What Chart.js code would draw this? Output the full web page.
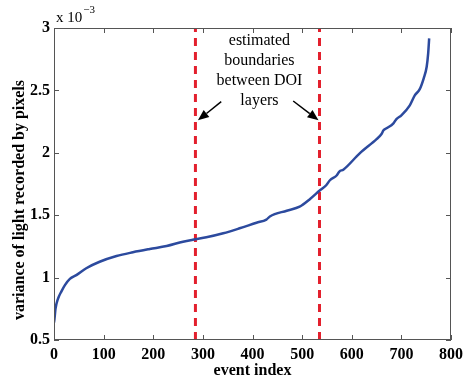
<!DOCTYPE html>
<html>
<head>
<meta charset="utf-8">
<script src="https://cdn.jsdelivr.net/npm/chart.js@4/dist/chart.umd.min.js"></script>
<style>
  html, body { margin: 0; padding: 0; background: #fff; }
  canvas { display: block; }
</style>
</head>
<body>
<canvas id="chart" width="474" height="389"></canvas>
<script>
// datos
const eventIndex = [0, 1, 3, 8, 15, 22, 32, 45, 65, 92, 126, 159, 193, 227, 260, 285, 307, 341, 374, 408, 428, 435, 469, 495, 516, 536, 549, 556, 570, 575, 583, 616, 650, 660, 664, 670, 684, 690, 700, 717, 727, 737, 745, 751, 754, 756];
const variance = [0.64, 0.67, 0.75, 0.83, 0.89, 0.94, 0.99, 1.02, 1.075, 1.127, 1.173, 1.203, 1.229, 1.253, 1.288, 1.307, 1.323, 1.355, 1.395, 1.44, 1.465, 1.49, 1.536, 1.568, 1.63, 1.70, 1.742, 1.78, 1.82, 1.85, 1.865, 1.996, 2.11, 2.15, 2.18, 2.196, 2.236, 2.27, 2.30, 2.38, 2.46, 2.51, 2.597, 2.69, 2.797, 2.917];

const boundaries = [285, 535];

const xTicks = [0, 100, 200, 300, 400, 500, 600, 700, 800];
const yTicks = [0.5, 1, 1.5, 2, 2.5, 3];

const noteLines = ['estimated', 'boundaries', 'between DOI', 'layers'];
const noteX = 414;
const noteY = [2.898, 2.735, 2.575, 2.42];
// flechas: [desde x, desde y, hasta x, hasta y]
const arrows = [
    [337, 2.41, 290, 2.26],
    [482, 2.415, 533, 2.26]
];

const serif = "'Liberation Serif', 'DejaVu Serif', serif";

const curve = eventIndex.map((x, i) => ({ x: x, y: variance[i] }));

const boundarySets = boundaries.map(b => ({
    data: [{ x: b, y: yTicks[0] }, { x: b, y: yTicks[yTicks.length - 1] }],
    borderColor: '#e3202d',
    borderWidth: 3,
    borderDash: [8, 6],
    pointRadius: 0,
    fill: false
}));

// marco, ticks hacia dentro, titulos y anotaciones
const matlabStyle = {
    id: 'matlabStyle',
    afterDraw(chart) {
        const ctx = chart.ctx;
        const a = chart.chartArea;
        const xs = chart.scales.x;
        const ys = chart.scales.y;
        const len = 5;

        ctx.save();
        ctx.strokeStyle = '#555';
        ctx.lineWidth = 1;
        ctx.strokeRect(a.left + 0.5, a.top + 0.5, a.right - a.left - 1, a.bottom - a.top - 1);

        ctx.beginPath();
        xTicks.forEach(t => {
            const px = Math.round(xs.getPixelForValue(t)) + 0.5;
            ctx.moveTo(px, a.bottom); ctx.lineTo(px, a.bottom - len);
            ctx.moveTo(px, a.top); ctx.lineTo(px, a.top + len);
        });
        yTicks.forEach(t => {
            const py = Math.round(ys.getPixelForValue(t)) + 0.5;
            ctx.moveTo(a.left, py); ctx.lineTo(a.left + len, py);
            ctx.moveTo(a.right, py); ctx.lineTo(a.right - len, py);
        });
        ctx.stroke();

        // titulos de ejes
        ctx.fillStyle = '#000';
        ctx.font = 'bold 16px ' + serif;
        ctx.textAlign = 'center';
        ctx.textBaseline = 'middle';
        ctx.fillText('event index', (a.left + a.right) / 2, 371);

        ctx.save();
        ctx.translate(20, 200);
        ctx.rotate(-Math.PI / 2);
        ctx.fillText('variance of light recorded by pixels', 0, 0);
        ctx.restore();

        // factor de escala
        ctx.textAlign = 'left';
        ctx.textBaseline = 'alphabetic';
        ctx.font = '15px ' + serif;
        ctx.fillText('x 10', a.left + 2, 22);
        const w = ctx.measureText('x 10').width;
        ctx.font = '11px ' + serif;
        ctx.fillText('\u22123', a.left + 3 + w, 13);

        // texto de la anotacion
        ctx.font = '16px ' + serif;
        ctx.textAlign = 'center';
        ctx.textBaseline = 'middle';
        noteLines.forEach((line, i) => {
            ctx.fillText(line, xs.getPixelForValue(noteX), ys.getPixelForValue(noteY[i]));
        });

        // flechas
        ctx.strokeStyle = '#000';
        ctx.fillStyle = '#000';
        ctx.lineWidth = 1.5;
        arrows.forEach(ar => {
            const x1 = xs.getPixelForValue(ar[0]), y1 = ys.getPixelForValue(ar[1]);
            const x2 = xs.getPixelForValue(ar[2]), y2 = ys.getPixelForValue(ar[3]);
            const ang = Math.atan2(y2 - y1, x2 - x1);
            const hl = 11, hw = 4.5;
            const bx = x2 - hl * Math.cos(ang), by = y2 - hl * Math.sin(ang);
            ctx.beginPath();
            ctx.moveTo(x1, y1); ctx.lineTo(bx, by);
            ctx.stroke();
            ctx.beginPath();
            ctx.moveTo(x2, y2);
            ctx.lineTo(bx + hw * Math.sin(ang), by - hw * Math.cos(ang));
            ctx.lineTo(bx - hw * Math.sin(ang), by + hw * Math.cos(ang));
            ctx.closePath();
            ctx.fill();
        });
        ctx.restore();
    }
};

new Chart(document.getElementById('chart'), {
    type: 'line',
    data: {
        datasets: [{
            data: curve,
            borderColor: '#2c4a9e',
            borderWidth: 2.5,
            pointRadius: 0,
            cubicInterpolationMode: 'monotone',
            fill: false
        }, ...boundarySets]
    },
    options: {
        responsive: false,
        animation: false,
        layout: { padding: { top: 28, right: 23, left: 0, bottom: 0 } },
        plugins: {
            legend: { display: false },
            tooltip: { enabled: false }
        },
        scales: {
            x: {
                type: 'linear',
                min: 0,
                max: 800,
                afterFit: s => { s.height = 49; },
                afterBuildTicks: s => { s.ticks = xTicks.map(v => ({ value: v })); },
                grid: { display: false, drawTicks: false },
                border: { display: false },
                ticks: {
                    color: '#000',
                    padding: 5,
                    maxRotation: 0,
                    callback: v => String(v),
                    font: { family: serif, size: 16, weight: 'bold' }
                }
            },
            y: {
                type: 'linear',
                min: 0.5,
                max: 3,
                afterFit: s => { s.width = 54; },
                afterBuildTicks: s => { s.ticks = yTicks.map(v => ({ value: v })); },
                grid: { display: false, drawTicks: false },
                border: { display: false },
                ticks: {
                    color: '#000',
                    padding: 4,
                    callback: v => String(v),
                    font: { family: serif, size: 16, weight: 'bold' }
                }
            }
        }
    },
    plugins: [matlabStyle]
});
</script>
</body>
</html>
